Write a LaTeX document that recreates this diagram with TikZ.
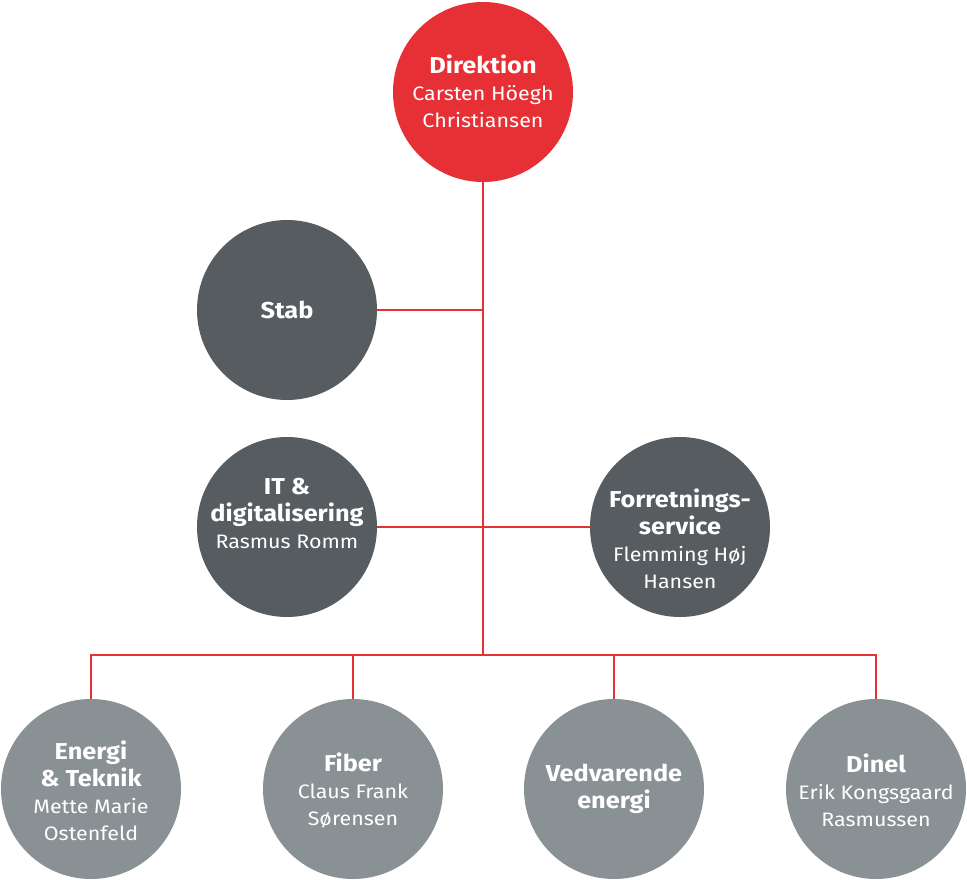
\documentclass[tikz,border=0pt]{standalone}
\usepackage{fontspec}
\setmainfont{Fira Sans}[FakeStretch=1.1]
\definecolor{dred}{HTML}{E63036}
\definecolor{dgray}{HTML}{565C5F}
\definecolor{lgray}{HTML}{8A9194}
\newcommand\hd[1]{{\fontsize{23}{27}\selectfont\bfseries #1}}
\begin{document}
\begin{tikzpicture}[x=1pt,y=-1pt,
  unit/.style={circle,minimum size=180pt,inner sep=0pt},
  lbl/.style={text=white,align=center,font=\fontsize{19.5}{27}\selectfont},
  conn/.style={draw=dred,line width=1.6pt}]
\useasboundingbox (0,0) rectangle (967,880);
% circles
\node[unit,fill=dred] (dir) at (483,92) {};
\node[unit,fill=dgray] (stab) at (287,310) {};
\node[unit,fill=dgray] (it) at (287,527) {};
\node[unit,fill=dgray] (for) at (680,527) {};
\node[unit,fill=lgray] (ene) at (91,789) {};
\node[unit,fill=lgray] (fib) at (353,789) {};
\node[unit,fill=lgray] (ved) at (614,789) {};
\node[unit,fill=lgray] (din) at (876,789) {};
% labels
\node[lbl] (tdir) at (483,91) {\hd{Direktion}\\Carsten Höegh\\Christiansen};
\node[lbl] (tstab) at (287,310) {\hd{Stab}};
\node[lbl] (tit) at (287,513) {\hd{IT \&}\\\hd{digitalisering}\\Rasmus Romm};
\node[lbl] (tfor) at (680,539) {\hd{Forretnings-}\\\hd{service}\\Flemming Høj\\Hansen};
\node[lbl] (tene) at (91,791) {\hd{Energi}\\\hd{\& Teknik}\\Mette Marie\\Ostenfeld};
\node[lbl] (tfib) at (353,790) {\hd{Fiber}\\Claus Frank\\Sørensen};
\node[lbl] (tved) at (614,789) {\hd{Vedvarende}\\\hd{energi}};
\node[lbl] (tdin) at (876,790) {\hd{Dinel}\\Erik Kongsgaard\\Rasmussen};
% connectors
\coordinate (jstab) at (483,310);
\coordinate (jbot) at (483,655);
\draw[conn] (dir.south) -- (jbot);
\draw[conn] (stab.east) -- (jstab);
\draw[conn] (it.east) -- (for.west);
\draw[conn] (ene.north) -- (ene.north |- jbot) -- (din.north |- jbot) -- (din.north);
\draw[conn] (fib.north) -- (fib.north |- jbot);
\draw[conn] (ved.north) -- (ved.north |- jbot);
\end{tikzpicture}
\end{document}
